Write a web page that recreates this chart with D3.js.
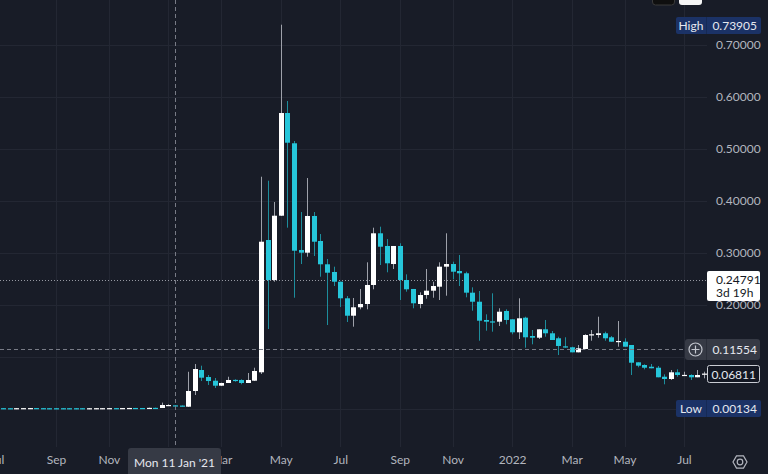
<!DOCTYPE html>
<html>
<head>
<meta charset="utf-8">
<script src="https://cdn.jsdelivr.net/npm/d3@7"></script>
<style>
  html, body { margin: 0; padding: 0; background: #181c27; }
  svg { display: block; font-family: Lato, "Open Sans", sans-serif; }
</style>
</head>
<body>
<div id="chart"></div>
<script>
var width = 768,
  height = 474,
  plotRight = 707,
  plotBottom = 447;

// weekly bars, first one is the week of Mon 29 Jun 2020
var firstWeek = "2020-06-29";

var opens = [
  0.0018, 0.0016, 0.0016, 0.0015, 0.0014, 0.0016, 0.0016, 0.0018, 0.0016, 0.0015,
  0.0015, 0.0015, 0.0015, 0.0015, 0.0015, 0.0014, 0.0015, 0.0015, 0.0016, 0.0017,
  0.0016, 0.0018, 0.0020, 0.0019, 0.0017, 0.0022, 0.0019,
  0.0063, 0.0070, 0.0066, 0.0044, 0.0346, 0.0750, 0.0615, 0.0544, 0.0448, 0.0500,
  0.0560, 0.0558, 0.0500, 0.0544, 0.0706, 0.3250, 0.2481, 0.3717, 0.5692, 0.5110,
  0.3058, 0.3006, 0.3712, 0.3231, 0.2783, 0.2635, 0.2448, 0.2129, 0.1794, 0.1956,
  0.2019, 0.2385, 0.3379, 0.3135, 0.2788, 0.3135, 0.2481, 0.2308, 0.2019, 0.2192,
  0.2275, 0.2352, 0.2737, 0.2788, 0.2654, 0.2610, 0.2237, 0.2063, 0.1712, 0.1685,
  0.1679, 0.1885, 0.1725, 0.1475, 0.1756, 0.1404, 0.1371, 0.1533, 0.1456, 0.1360,
  0.1205, 0.1187, 0.1090, 0.1154, 0.1430, 0.1423, 0.1456, 0.1379, 0.1302, 0.1294,
  0.1231, 0.0898, 0.0846, 0.0813, 0.0794, 0.0621, 0.0577, 0.0706, 0.0650, 0.0654,
  0.0610, 0.0675
];
var highs = [
  0.0019, 0.0018, 0.0017, 0.0016, 0.0017, 0.0018, 0.0019, 0.0019, 0.0017, 0.0016,
  0.0016, 0.0016, 0.0016, 0.0016, 0.0016, 0.0016, 0.0017, 0.0017, 0.0018, 0.0018,
  0.0019, 0.0021, 0.0021, 0.0020, 0.0025, 0.0026, 0.0123,
  0.0090, 0.0072, 0.0068, 0.0716, 0.0865, 0.0833, 0.0654, 0.0596, 0.0506, 0.0621,
  0.0571, 0.0571, 0.0692, 0.0794, 0.4467, 0.4390, 0.3981, 0.73905, 0.5923, 0.5154,
  0.3788, 0.4442, 0.3788, 0.3365, 0.2885, 0.2737, 0.2448, 0.2173, 0.2135, 0.2308,
  0.2821, 0.3487, 0.3506, 0.3269, 0.3135, 0.3187, 0.2590, 0.2308, 0.2244, 0.2692,
  0.2448, 0.2821, 0.3379, 0.2833, 0.2962, 0.2640, 0.2340, 0.2269, 0.1821, 0.2225,
  0.1937, 0.1917, 0.1725, 0.2129, 0.1775, 0.1519, 0.1533, 0.1712, 0.1500, 0.1390,
  0.1379, 0.1198, 0.1231, 0.1437, 0.1519, 0.1775, 0.1487, 0.1404, 0.1692, 0.1360,
  0.1231, 0.0898, 0.0860, 0.0865, 0.0827, 0.0667, 0.0750, 0.0763, 0.0717, 0.0667,
  0.0750, 0.0717
];
var lows = [
  0.0015, 0.0014, 0.0014, 0.0014, 0.0014, 0.0015, 0.0015, 0.0015, 0.0014, 0.00134,
  0.0014, 0.0014, 0.0014, 0.0014, 0.0014, 0.0014, 0.0014, 0.0014, 0.0015, 0.0015,
  0.0015, 0.0017, 0.0017, 0.0016, 0.0016, 0.0017, 0.0019,
  0.0060, 0.0060, 0.0060, 0.0040, 0.0269, 0.0538, 0.0462, 0.0404, 0.0442, 0.0500,
  0.0525, 0.0475, 0.0500, 0.0538, 0.0673, 0.1538, 0.2448, 0.3712, 0.3487, 0.2140,
  0.2788, 0.2929, 0.2942, 0.2544, 0.1615, 0.2365, 0.1962, 0.1673, 0.1583, 0.1917,
  0.1917, 0.2302, 0.2769, 0.2629, 0.2692, 0.2096, 0.2256, 0.1937, 0.1937, 0.2121,
  0.2140, 0.2096, 0.2179, 0.2494, 0.2365, 0.2148, 0.1890, 0.1313, 0.1506, 0.1487,
  0.1596, 0.1629, 0.1437, 0.1346, 0.1179, 0.1244, 0.1346, 0.1390, 0.1327, 0.1038,
  0.1179, 0.1090, 0.1090, 0.1148, 0.1313, 0.1371, 0.1313, 0.1294, 0.1198, 0.1198,
  0.0654, 0.0802, 0.0763, 0.0783, 0.0610, 0.0475, 0.0558, 0.0621, 0.0640, 0.0558,
  0.0610, 0.0590
];
var closes = [
  0.0016, 0.0015, 0.0015, 0.0014, 0.0016, 0.0017, 0.0018, 0.0016, 0.0015, 0.0014,
  0.0014, 0.0014, 0.0014, 0.0014, 0.0014, 0.0015, 0.0016, 0.0016, 0.0017, 0.0016,
  0.0018, 0.0020, 0.0018, 0.0017, 0.0022, 0.0019, 0.0077,
  0.0077, 0.0063, 0.0063, 0.0346, 0.0769, 0.0602, 0.0538, 0.0448, 0.0500, 0.0558,
  0.0552, 0.0500, 0.0558, 0.0731, 0.3217, 0.2481, 0.3717, 0.5692, 0.5121, 0.3044,
  0.3006, 0.3712, 0.3217, 0.2783, 0.2621, 0.2448, 0.2129, 0.1794, 0.1956, 0.2019,
  0.2385, 0.3379, 0.3121, 0.2802, 0.3135, 0.2481, 0.2302, 0.2033, 0.2192, 0.2275,
  0.2365, 0.2737, 0.2788, 0.2640, 0.2610, 0.2237, 0.2063, 0.1698, 0.1679, 0.1679,
  0.1871, 0.1712, 0.1475, 0.1744, 0.1379, 0.1371, 0.1533, 0.1456, 0.1327, 0.1212,
  0.1198, 0.1090, 0.1167, 0.1423, 0.1437, 0.1456, 0.1360, 0.1294, 0.1308, 0.1198,
  0.0890, 0.0833, 0.0794, 0.0783, 0.0610, 0.0577, 0.0706, 0.0654, 0.0656, 0.0610,
  0.0654, 0.0681
];

var priceTicks = [0, 0.1, 0.2, 0.3, 0.4, 0.5, 0.6, 0.7];
// tick labels that the axis hides behind its own marker labels
var hiddenPriceTicks = [0, 0.1];
var monthLabels = ["Jul", "Sep", "Nov", "2021", "Mar", "May", "Jul", "Sep", "Nov", "2022", "Mar", "May", "Jul"];
var monthStarts = ["2020-07-01", "2020-09-01", "2020-11-01", "2021-01-01", "2021-03-01", "2021-05-01",
  "2021-07-01", "2021-09-01", "2021-11-01", "2022-01-01", "2022-03-01", "2022-05-01", "2022-07-01"];

var highValue = 0.73905, lowValue = 0.00134, lastValue = 0.24791, crossValue = 0.11554, markValue = 0.06811;
var crossDate = "2021-01-11";

var parseDay = d3.timeParse("%Y-%m-%d");
var start = parseDay(firstWeek);
var data = opens.map((o, i) => ({
  date: d3.timeMonday.offset(start, i),
  o: o, h: highs[i], l: lows[i], c: closes[i]
}));

var xScale = d3.scaleTime()
  .domain([parseDay("2021-01-04"), parseDay("2022-07-04")])
  .range([168.4, 684]);
var yScale = d3.scaleLinear()
  .domain([0, 0.7])
  .range([409, 45]);

var upColor = "#ffffff", downColor = "#26c6da",
  upWick = "#9ea1aa", downWick = "#1d8d9c",
  gridColor = "#232733", textColor = "#b2b5be";

var svg = d3.select('#chart').append('svg')
  .attr('width', width)
  .attr('height', height);

svg.append('rect').attr('width', width).attr('height', height).attr('fill', '#181c27');

var tickDates = monthStarts.map(s => d3.timeMonday.ceil(parseDay(s)));
var crossDay = parseDay(crossDate);

// grid
svg.append('g').selectAll('line').data(tickDates).enter().append('line')
  .attr('x1', d => Math.round(xScale(d)) + 0.5).attr('x2', d => Math.round(xScale(d)) + 0.5)
  .attr('y1', 0).attr('y2', plotBottom)
  .attr('stroke', gridColor);
svg.append('g').selectAll('line').data(priceTicks).enter().append('line')
  .attr('x1', 0).attr('x2', plotRight)
  .attr('y1', d => Math.round(yScale(d)) + 0.5).attr('y2', d => Math.round(yScale(d)) + 0.5)
  .attr('stroke', gridColor);

// price axis labels
var yAxis = d3.axisRight(yScale)
  .tickValues(priceTicks.filter(v => hiddenPriceTicks.indexOf(v) < 0))
  .tickFormat(d3.format(".5f")).tickSize(0).tickPadding(0);
var yg = svg.append('g').attr('transform', 'translate(716,0)').call(yAxis);
yg.select('.domain').remove();
yg.selectAll('text').attr('fill', textColor).style('font-size', '12px').style('font-family', 'Lato, sans-serif');

// time axis labels (the one right under the crosshair date is covered)
var shownDates = tickDates.filter(d => Math.abs(xScale(d) - xScale(crossDay)) > 20);
var xAxis = d3.axisBottom(xScale).tickValues(shownDates)
  .tickFormat(d => monthLabels[tickDates.indexOf(d)]).tickSize(0).tickPadding(0);
var xg = svg.append('g').attr('transform', 'translate(0,455)').call(xAxis);
xg.select('.domain').remove();
xg.selectAll('text').attr('fill', textColor).style('font-size', '12px').style('font-family', 'Lato, sans-serif');

// last price dotted line
svg.append('line')
  .attr('x1', 0).attr('x2', plotRight)
  .attr('y1', Math.round(yScale(lastValue)) + 0.5).attr('y2', Math.round(yScale(lastValue)) + 0.5)
  .attr('stroke', '#9598a1').attr('stroke-dasharray', '1,2');

// candles
var plot = svg.append('g');
var bars = plot.selectAll('g.bar').data(data).enter().append('g').attr('class', 'bar');
bars.append('rect')
  .attr('x', d => Math.round(xScale(d.date)))
  .attr('width', 1)
  .attr('y', d => yScale(d.h))
  .attr('height', d => Math.max(1, yScale(d.l) - yScale(d.h)))
  .attr('fill', d => d.c >= d.o ? upWick : downWick);
bars.append('rect')
  .attr('x', d => Math.round(xScale(d.date)) - 2)
  .attr('width', 5)
  .attr('y', d => yScale(Math.max(d.o, d.c)))
  .attr('height', d => Math.max(1.2, Math.abs(yScale(d.o) - yScale(d.c))))
  .attr('fill', d => d.c >= d.o ? upColor : downColor);

// crosshair
var cx = Math.round(xScale(crossDay)) + 0.5;
var cy = Math.round(yScale(crossValue)) + 0.5;
svg.append('line').attr('x1', cx).attr('x2', cx).attr('y1', 0).attr('y2', plotBottom)
  .attr('stroke', '#787b86').attr('stroke-dasharray', '4,3');
svg.append('line').attr('x1', 0).attr('x2', 685).attr('y1', cy).attr('y2', cy)
  .attr('stroke', '#787b86').attr('stroke-dasharray', '4,3');

// top buttons (cut off)
svg.append('rect').attr('x', 652.5).attr('y', -8).attr('width', 22).attr('height', 13).attr('rx', 3)
  .attr('fill', '#0f0f0f').attr('stroke', '#3a3a3a');
svg.append('rect').attr('x', 679).attr('y', -8).attr('width', 23).attr('height', 13).attr('rx', 3)
  .attr('fill', '#f5f5f5');

// high / low labels
function hiLo(label, value) {
  var y = Math.round(yScale(value));
  var g = svg.append('g');
  g.append('rect').attr('x', 676).attr('y', y - 8).attr('width', 85).attr('height', 17).attr('rx', 2).attr('fill', '#1b3266');
  g.append('rect').attr('x', 706).attr('y', y - 8).attr('width', 1).attr('height', 17).attr('fill', '#162a55');
  g.append('text').attr('x', 691).attr('y', y + 4.5).attr('text-anchor', 'middle')
    .attr('fill', '#e6e8ef').style('font-size', '12px').text(label);
  g.append('text').attr('x', 757).attr('y', y + 4.5).attr('text-anchor', 'end')
    .attr('fill', '#e6e8ef').style('font-size', '12px').text(d3.format(".5f")(value));
}
hiLo('High', highValue);
hiLo('Low', lowValue);

// last price label with countdown
var ly = Math.round(yScale(lastValue));
svg.append('rect').attr('x', 707).attr('y', ly - 9).attr('width', 53).attr('height', 30).attr('rx', 2).attr('fill', '#ffffff');
svg.append('text').attr('x', 716).attr('y', ly + 4).attr('fill', '#131722').style('font-size', '12px').text(d3.format(".5f")(lastValue));
svg.append('text').attr('x', 716).attr('y', ly + 17).attr('fill', '#131722').style('font-size', '12px').text('3d 19h');

// crosshair price label
svg.append('rect').attr('x', 685).attr('y', cy - 10.5).attr('width', 75).attr('height', 21).attr('rx', 3).attr('fill', '#363a45');
svg.append('rect').attr('x', 706).attr('y', cy - 10.5).attr('width', 1).attr('height', 21).attr('fill', '#2a2e39');
svg.append('circle').attr('cx', 695.5).attr('cy', cy).attr('r', 6.5).attr('fill', 'none').attr('stroke', '#c3c6ce').attr('stroke-width', 1.2);
svg.append('path').attr('d', 'M691.5,' + cy + 'H699.5M695.5,' + (cy - 4) + 'V' + (cy + 4))
  .attr('stroke', '#c3c6ce').attr('stroke-width', 1.2);
svg.append('text').attr('x', 757).attr('y', cy + 4.5).attr('text-anchor', 'end')
  .attr('fill', '#e6e8ef').style('font-size', '12px').text(d3.format(".5f")(crossValue));

// outlined mark label
var my = Math.round(yScale(markValue));
svg.append('rect').attr('x', 707.5).attr('y', my - 8.5).attr('width', 52).attr('height', 17).attr('rx', 2)
  .attr('fill', '#131722').attr('stroke', '#c9ccd3');
svg.append('text').attr('x', 756).attr('y', my + 4.5).attr('text-anchor', 'end')
  .attr('fill', '#e6e8ef').style('font-size', '12px').text(d3.format(".5f")(markValue));

// crosshair date label
var fmt = d3.timeFormat("%a %d %b '%y");
svg.append('rect').attr('x', 128).attr('y', 448).attr('width', 93).attr('height', 28).attr('rx', 3).attr('fill', '#363a45');
svg.append('text').attr('x', 174.5).attr('y', 466.5).attr('text-anchor', 'middle')
  .attr('fill', '#e6e8ef').style('font-size', '12px').text(fmt(crossDay));

// settings icon
var hex = d3.range(6).map(i => [740 + 7 * Math.cos(Math.PI / 3 * i), 462 + 7 * Math.sin(Math.PI / 3 * i)]);
svg.append('path').attr('d', d3.line()(hex) + 'Z').attr('fill', 'none').attr('stroke', textColor).attr('stroke-width', 1.2);
svg.append('circle').attr('cx', 740).attr('cy', 462).attr('r', 2.8).attr('fill', 'none').attr('stroke', textColor).attr('stroke-width', 1.2);
</script>
</body>
</html>
